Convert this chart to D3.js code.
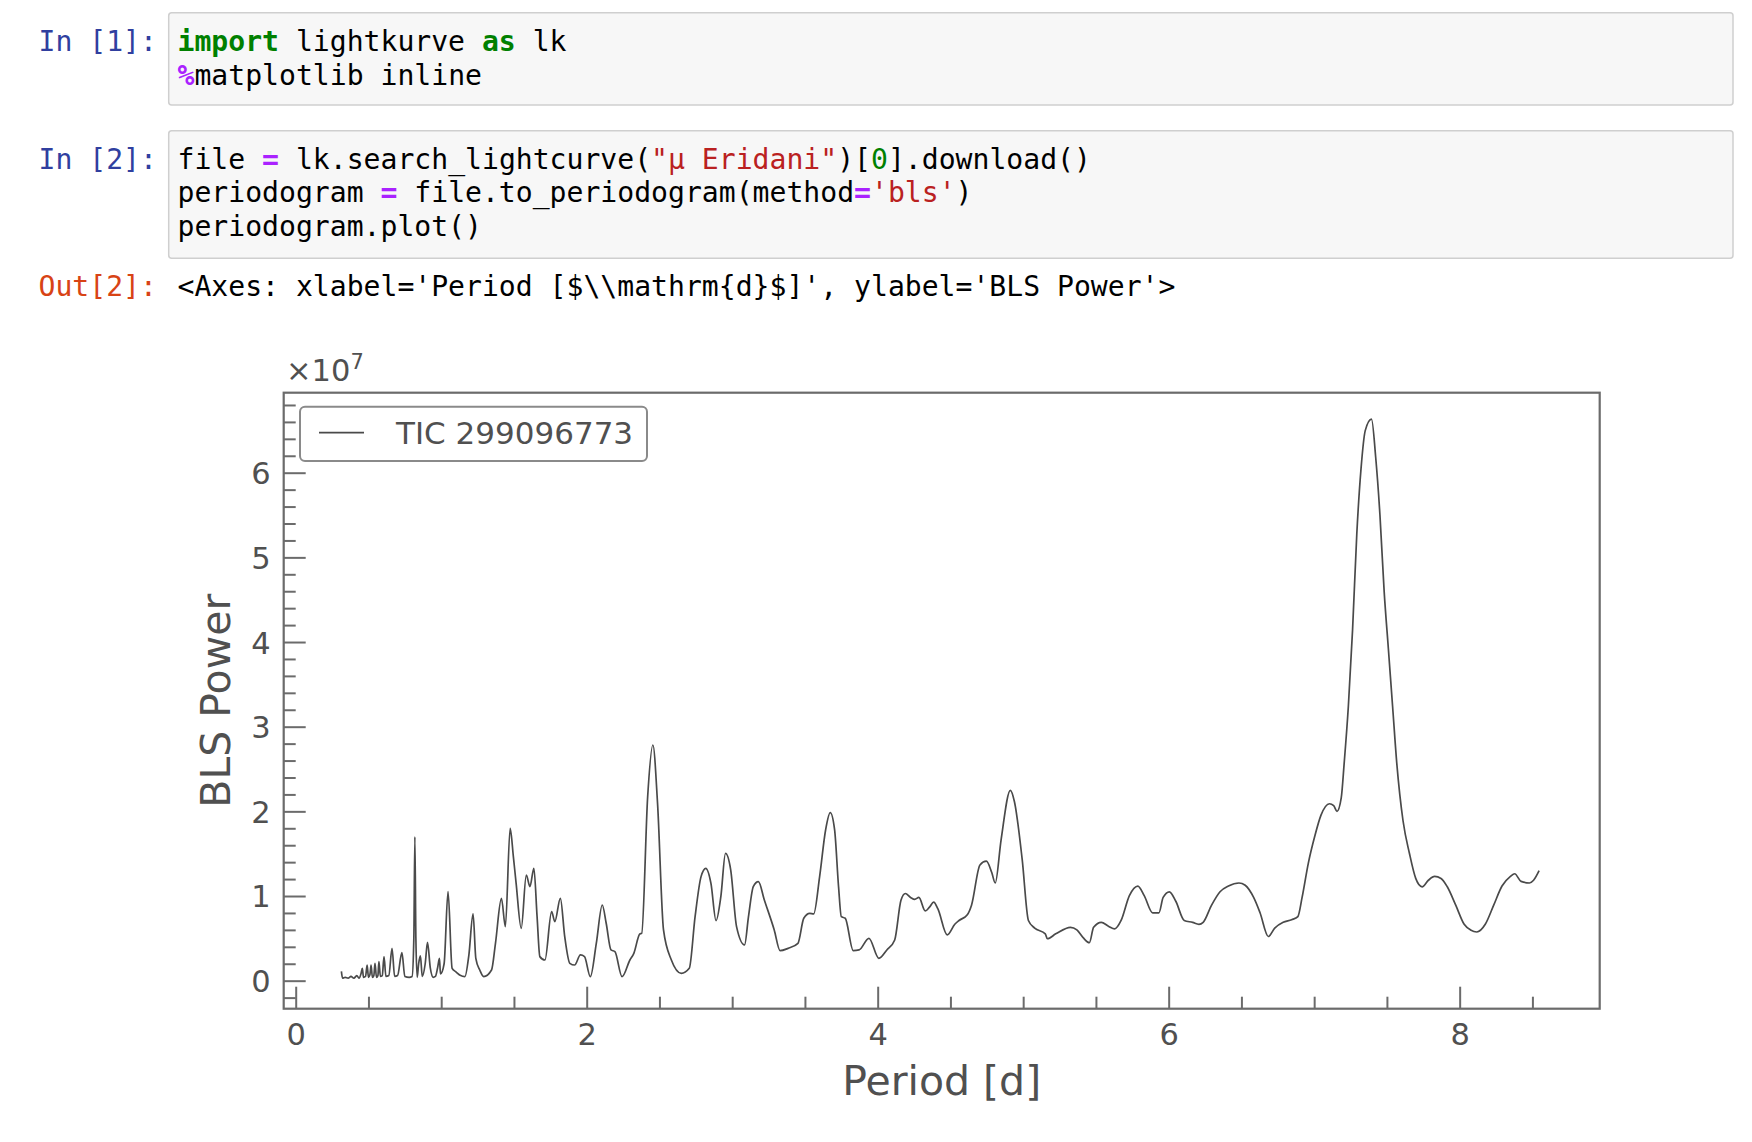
<!DOCTYPE html>
<html>
<head>
<meta charset="utf-8">
<script src="https://cdn.jsdelivr.net/npm/d3@7"></script>
<style>
  html, body { margin: 0; padding: 0; background: #ffffff; }
  svg { display: block; }
</style>
</head>
<body>
<svg id="page" width="1752" height="1142"></svg>
<script>
// ---------- data (BLS power in units of 1e7) ----------
const periods = [
  0.314,0.322,0.34,0.36,0.38,0.40,0.42,0.435,0.45,0.458,0.466,0.48,0.491,0.50,0.510,0.518,0.527,0.537,0.545,0.555,
  0.565,0.572,0.582,0.595,0.607,0.62,0.64,0.662,0.68,0.70,0.730,0.75,0.78,0.80,0.812,0.819,0.826,0.835,0.845,0.857,
  0.87,0.89,0.906,0.925,0.945,0.96,0.975,0.988,0.995,1.02,1.047,1.075,1.103,1.130,1.163,1.19,1.219,1.238,1.265,1.292,
  1.346,1.373,1.414,1.441,1.474,1.496,1.515,1.550,1.585,1.610,1.637,1.659,1.678,1.713,1.759,1.781,1.819,1.849,1.884,1.917,
  1.957,1.985,2.025,2.066,2.107,2.134,2.167,2.194,2.243,2.297,2.324,2.365,2.378,2.419,2.455,2.487,2.528,2.582,2.650,2.705,
  2.745,2.786,2.819,2.854,2.889,2.922,2.954,2.990,3.030,3.085,3.112,3.145,3.180,3.221,3.289,3.329,3.384,3.452,3.492,3.533,
  3.560,3.601,3.642,3.674,3.704,3.731,3.750,3.777,3.832,3.872,3.940,4.008,4.063,4.117,4.160,4.190,4.226,4.255,4.283,4.327,
  4.356,4.385,4.414,4.478,4.530,4.559,4.616,4.645,4.703,4.747,4.784,4.808,4.848,4.912,4.940,4.993,5.036,5.079,5.152,5.166,
  5.224,5.325,5.369,5.412,5.455,5.484,5.537,5.586,5.629,5.673,5.730,5.788,5.832,5.890,5.933,5.962,6.005,6.049,6.107,6.165,
  6.208,6.237,6.295,6.353,6.411,6.483,6.526,6.584,6.628,6.685,6.729,6.787,6.845,6.888,6.917,6.960,7.004,7.047,7.105,7.134,
  7.157,7.186,7.206,7.235,7.264,7.293,7.322,7.351,7.394,7.423,7.452,7.481,7.510,7.539,7.568,7.611,7.655,7.698,7.742,7.785,
  7.828,7.872,7.915,7.973,8.031,8.075,8.118,8.176,8.234,8.291,8.349,8.378,8.422,8.480,8.508,8.546
];
const power = [
  0.11,0.03,0.04,0.03,0.05,0.03,0.06,0.03,0.09,0.146,0.04,0.05,0.185,0.04,0.07,0.185,0.04,0.06,0.205,0.04,
  0.06,0.225,0.05,0.06,0.284,0.05,0.06,0.382,0.05,0.06,0.331,0.05,0.04,0.05,0.5,1.70,0.5,0.04,0.2,0.292,
  0.05,0.2,0.453,0.15,0.04,0.05,0.15,0.264,0.08,0.2,1.052,0.146,0.102,0.063,0.048,0.3,0.788,0.264,0.126,0.048,
  0.126,0.441,0.973,0.638,1.800,1.465,1.150,0.618,1.248,1.111,1.327,0.756,0.284,0.244,0.815,0.697,0.973,0.520,0.205,0.185,
  0.304,0.284,0.048,0.441,0.894,0.678,0.363,0.343,0.048,0.244,0.323,0.552,0.559,2.172,2.784,2.094,0.599,0.244,0.087,0.146,
  0.756,1.229,1.327,1.150,0.709,0.992,1.504,1.307,0.638,0.422,0.756,1.111,1.170,0.953,0.599,0.355,0.382,0.441,0.737,0.796,
  0.788,1.229,1.780,1.985,1.780,1.111,0.756,0.737,0.355,0.363,0.500,0.264,0.363,0.481,0.95,1.03,0.983,0.960,0.983,0.824,
  0.869,0.928,0.847,0.540,0.666,0.711,0.779,0.892,1.367,1.411,1.277,1.154,1.661,2.248,2.113,1.435,0.711,0.621,0.553,0.495,
  0.553,0.630,0.599,0.508,0.449,0.630,0.689,0.644,0.612,0.711,1.005,1.118,1.005,0.802,0.802,0.983,1.050,0.938,0.711,0.689,
  0.666,0.689,0.892,1.050,1.118,1.154,1.127,0.983,0.802,0.522,0.621,0.689,0.720,0.757,0.983,1.389,1.705,1.955,2.090,2.067,
  2.000,2.158,2.564,3.242,4.147,5.277,6.045,6.497,6.633,6.180,5.503,4.598,3.920,3.242,2.564,1.886,1.502,1.208,1.109,1.186,
  1.231,1.208,1.109,0.892,0.666,0.599,0.575,0.666,0.892,1.118,1.231,1.263,1.173,1.154,1.186,1.299
];
const xMajorTicks = [0, 2, 4, 6, 8];
const yMajorTicks = [0, 1, 2, 3, 4, 5, 6];
const legendLabel = "TIC 299096773";
const xAxisLabel = "Period [d]";
const yAxisLabel = "BLS Power";

// notebook cells: arrays of [text, colour, bold]
const cell1Lines = [
  [["import", "#008000", true], [" lightkurve ", "#000", false], ["as", "#008000", true], [" lk", "#000", false]],
  [["%", "#AA22FF", true], ["matplotlib inline", "#000", false]]
];
const cell2Lines = [
  [["file ", "#000", false], ["=", "#AA22FF", true], [" lk.search_lightcurve(", "#000", false], ["\"µ Eridani\"", "#BA2121", false],
   [")[", "#000", false], ["0", "#008000", false], ["].download()", "#000", false]],
  [["periodogram ", "#000", false], ["=", "#AA22FF", true], [" file.to_periodogram(method", "#000", false], ["=", "#AA22FF", true],
   ["'bls'", "#BA2121", false], [")", "#000", false]],
  [["periodogram.plot()", "#000", false]]
];
const outText = "<Axes: xlabel='Period [$\\\\mathrm{d}$]', ylabel='BLS Power'>";

// ---------- page ----------
const svg = d3.select("#page");
const mono = "'DejaVu Sans Mono', 'Liberation Mono', monospace";
const sans = "'DejaVu Sans', sans-serif";
const codeSize = 28.1;

function cellBox(y0, y1) {
  svg.append("rect").attr("x", 168.7).attr("y", y0).attr("width", 1733 - 168.7).attr("height", y1 - y0)
    .attr("rx", 3).attr("fill", "#f7f7f7").attr("stroke", "#cfcfcf").attr("stroke-width", 1.5);
}
function prompt(txt, y, color) {
  svg.append("text").attr("x", 38.5).attr("y", y).attr("font-family", mono).attr("font-size", codeSize)
    .attr("fill", color).attr("xml:space", "preserve").text(txt);
}
function codeLines(lines, y0, dy) {
  lines.forEach((parts, i) => {
    const t = svg.append("text").attr("x", 177.5).attr("y", y0 + i * dy).attr("font-family", mono)
      .attr("font-size", codeSize).attr("xml:space", "preserve").style("white-space", "pre");
    parts.forEach(p => t.append("tspan").attr("fill", p[1]).attr("font-weight", p[2] ? "bold" : "normal").text(p[0]));
  });
}
cellBox(12.7, 105);
cellBox(130.7, 258.3);
prompt("In [1]:", 51, "#303F9F");
prompt("In [2]:", 168.5, "#303F9F");
prompt("Out[2]:", 296, "#D84315");
codeLines(cell1Lines, 51, 33.5);
codeLines(cell2Lines, 168.5, 33.5);
svg.append("text").attr("x", 177.5).attr("y", 296).attr("font-family", mono).attr("font-size", codeSize)
  .attr("fill", "#000").style("white-space", "pre").text(outText);

// ---------- chart ----------
const L = 283.7, R = 1599.7, T = 392.7, B = 1008.7;
const x = d3.scaleLinear().domain([-0.0825, 8.9625]).range([L, R]);
const y = d3.scaleLinear().domain([-0.331, 6.945]).range([B, T]);
const axisColor = "#6b6b6b";
const textColor = "#505050";

const g = svg.append("g");

// clip
svg.append("clipPath").attr("id", "clip").append("rect")
  .attr("x", L).attr("y", T).attr("width", R - L).attr("height", B - T);

// line
const line = d3.line().x((d, i) => x(periods[i])).y((d, i) => y(power[i])).curve(d3.curveMonotoneX);
g.append("path").datum(power).attr("clip-path", "url(#clip)").attr("d", line)
  .attr("fill", "none").attr("stroke", "#4a4a4a").attr("stroke-width", 1.7).attr("stroke-linejoin", "round");

// ticks (inward) using d3 axes
const xMinor = d3.range(0.5, 8.9, 0.5).filter(v => Math.abs(v - Math.round(v / 2) * 2) > 1e-6);
const yMinor = d3.range(-0.2, 6.9, 0.2).map(v => +v.toFixed(1)).filter(v => Math.abs(v - Math.round(v)) > 1e-6);

function styleAxis(sel) {
  sel.select(".domain").remove();
  sel.selectAll(".tick line").attr("stroke", axisColor).attr("stroke-width", 2);
}
// x major
const xAx = g.append("g").attr("transform", `translate(0,${B})`)
  .call(d3.axisTop(x).tickValues(xMajorTicks).tickSize(22).tickFormat(d3.format("d")));
styleAxis(xAx);
xAx.selectAll(".tick text").attr("y", 36).attr("dy", 0).attr("font-family", sans).attr("font-size", 30.5)
  .attr("fill", textColor).attr("text-anchor", "middle");
// x minor
const xAxm = g.append("g").attr("transform", `translate(0,${B})`)
  .call(d3.axisTop(x).tickValues(xMinor).tickSize(12).tickFormat(""));
styleAxis(xAxm);
// y major
const yAx = g.append("g").attr("transform", `translate(${L},0)`)
  .call(d3.axisRight(y).tickValues(yMajorTicks).tickSize(22).tickFormat(d3.format("d")));
styleAxis(yAx);
yAx.selectAll(".tick text").attr("x", -13).attr("dy", "0.36em").attr("font-family", sans).attr("font-size", 30.5)
  .attr("fill", textColor).attr("text-anchor", "end");
// y minor
const yAxm = g.append("g").attr("transform", `translate(${L},0)`)
  .call(d3.axisRight(y).tickValues(yMinor).tickSize(12).tickFormat(""));
styleAxis(yAxm);

// frame
g.append("rect").attr("x", L).attr("y", T).attr("width", R - L).attr("height", B - T)
  .attr("fill", "none").attr("stroke", axisColor).attr("stroke-width", 2.2);

// offset text ×10^7
const off = g.append("text").attr("x", 286).attr("y", 381).attr("font-family", sans).attr("font-size", 30.5).attr("fill", textColor);
off.append("tspan").text("×10");
off.append("tspan").attr("dy", -12).attr("font-size", 21).text("7");

// axis labels
g.append("text").attr("x", (L + R) / 2).attr("y", 1095).attr("text-anchor", "middle")
  .attr("font-family", sans).attr("font-size", 41).attr("fill", textColor).text(xAxisLabel);
g.append("text").attr("transform", `translate(229.5,${(T + B) / 2}) rotate(-90)`).attr("text-anchor", "middle")
  .attr("font-family", sans).attr("font-size", 41).attr("fill", textColor).text(yAxisLabel);

// legend
const lg = g.append("g");
lg.append("rect").attr("x", 300).attr("y", 406.7).attr("width", 347).attr("height", 54.3).attr("rx", 5)
  .attr("fill", "#ffffff").attr("fill-opacity", 0.85).attr("stroke", "#8a8a8a").attr("stroke-width", 2);
lg.append("line").attr("x1", 319).attr("x2", 364).attr("y1", 432.7).attr("y2", 432.7)
  .attr("stroke", "#4a4a4a").attr("stroke-width", 1.7);
lg.append("text").attr("x", 396).attr("y", 444).attr("font-family", sans).attr("font-size", 31)
  .attr("fill", textColor).text(legendLabel);
</script>
</body>
</html>
